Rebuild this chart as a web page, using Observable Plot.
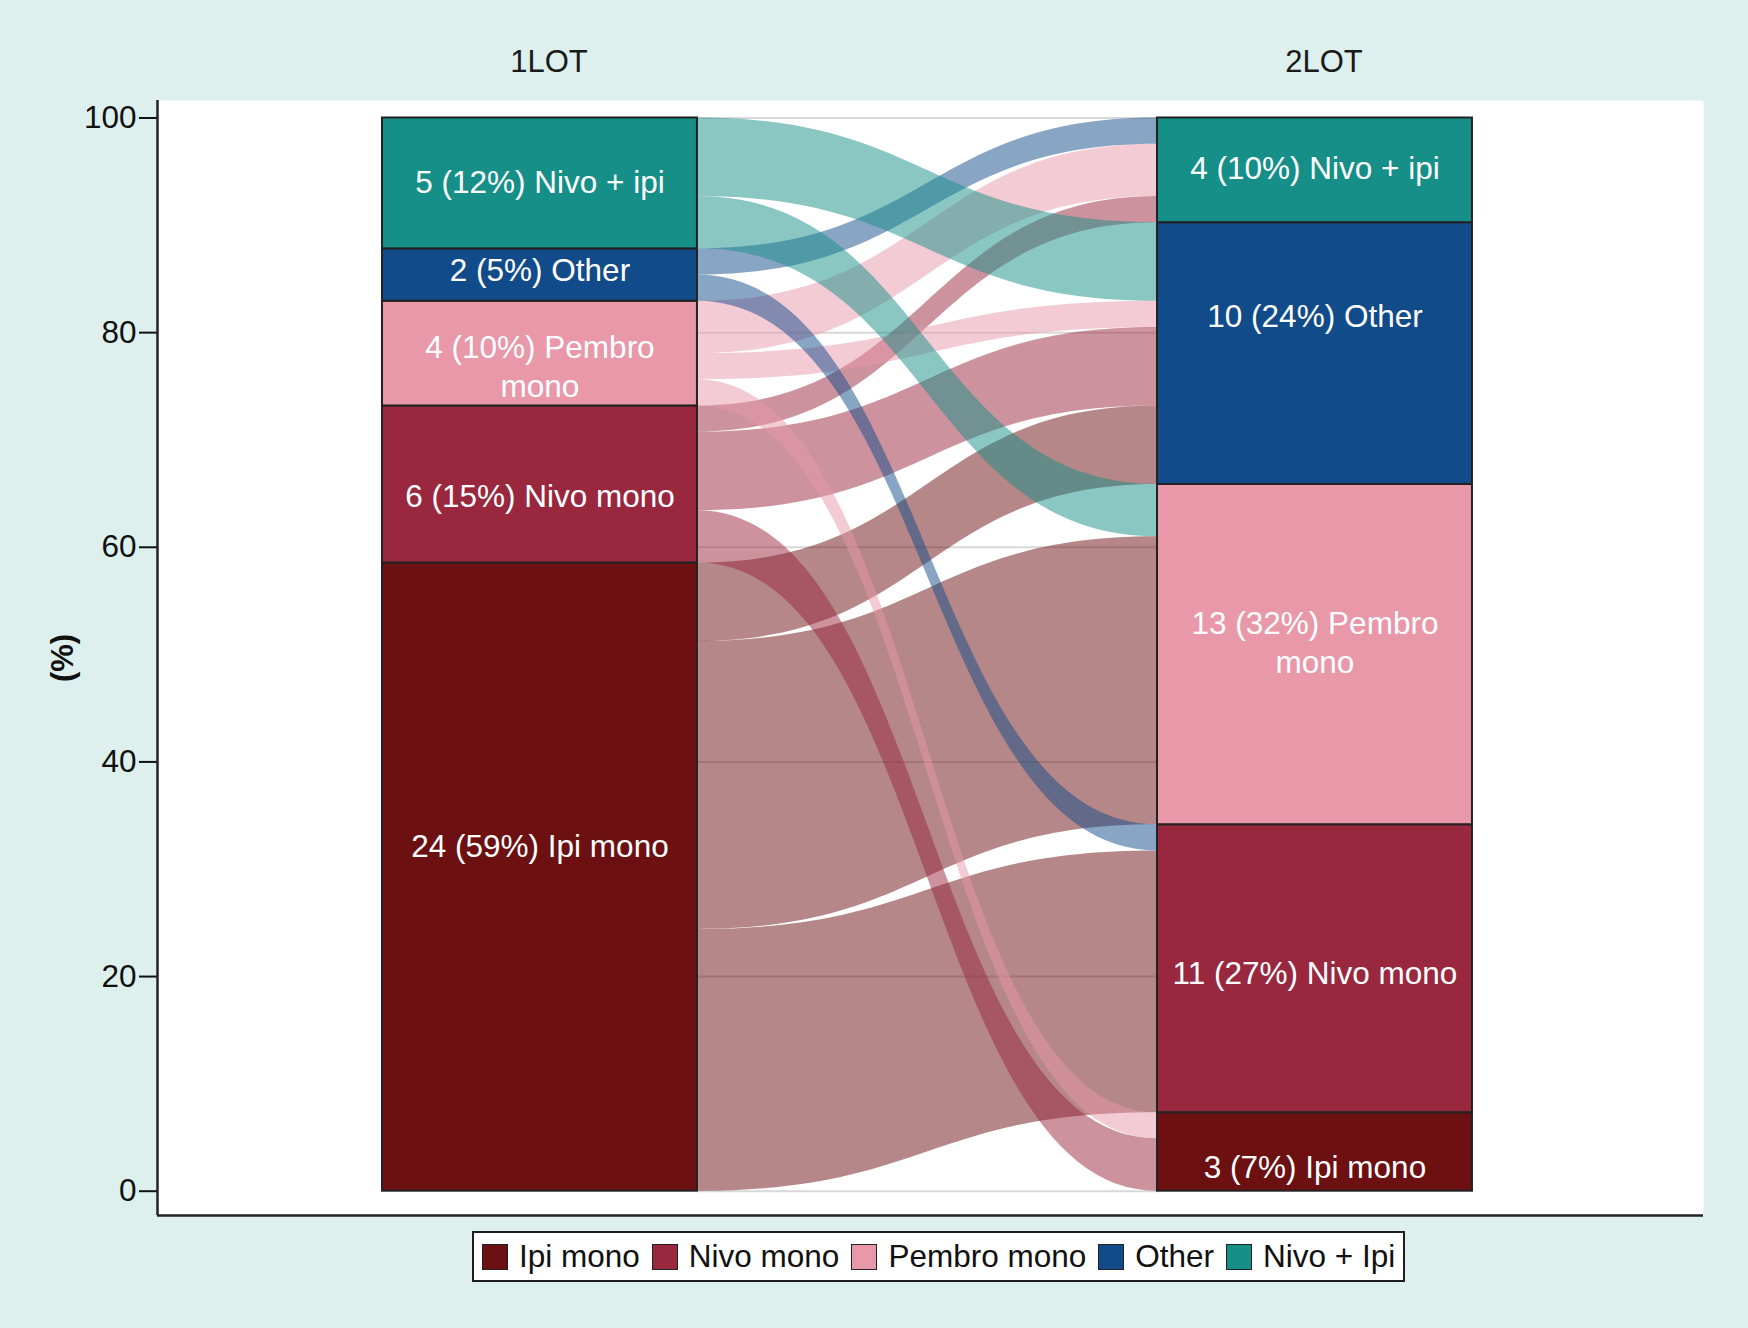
<!DOCTYPE html>
<html>
<head>
<meta charset="utf-8">
<script src="https://cdn.jsdelivr.net/npm/d3@7"></script>
<script src="https://cdn.jsdelivr.net/npm/@observablehq/plot@0.6"></script>
<style>
  html, body { margin: 0; padding: 0; background: #ddf0ee; }
  body {
    width: 1748px; height: 1328px; overflow: hidden; position: relative;
    font-family: "Liberation Sans", Arial, Helvetica, sans-serif;
  }
  #chart { position: absolute; left: 0; top: 0; }
  #legend {
    position: absolute; left: 472px; top: 1231px; height: 51px;
    box-sizing: border-box; border: 2px solid #1e1e1e; background: #fff;
    display: flex; align-items: center; padding: 0 8px 0 8px;
    font-size: 31.5px; color: #111; white-space: nowrap;
  }
  #legend .sw {
    width: 26px; height: 26px; box-sizing: border-box;
    border: 1.5px solid #222; margin-right: 11px; flex: none;
  }
  #legend .lab { margin-right: 12px; }
  #legend .lab:last-child { margin-right: 0; }
</style>
</head>
<body>
<div id="chart"></div>
<div id="legend"></div>
<script>
// Lines of therapy and treatment groups (stacked bottom to top)
const stages = ["1LOT", "2LOT"];
const treatments = ["Ipi mono", "Nivo mono", "Pembro mono", "Other", "Nivo + ipi"];
const nodeNames = ["Ipi mono", "Nivo mono", "Pembro\nmono", "Other", "Nivo + ipi"];
const legendNames = ["Ipi mono", "Nivo mono", "Pembro mono", "Other", "Nivo + Ipi"];
const palette = ["#6c1012", "#99283f", "#e898a9", "#124b8a", "#158f87"];

// Patients moving from first-line to second-line treatment
const flowFrom = ["Ipi mono", "Ipi mono", "Ipi mono",
                  "Nivo mono", "Nivo mono", "Nivo mono",
                  "Pembro mono", "Pembro mono", "Pembro mono",
                  "Other", "Other",
                  "Nivo + ipi", "Nivo + ipi"];
const flowTo = ["Nivo mono", "Pembro mono", "Other",
                "Ipi mono", "Other", "Nivo + ipi",
                "Ipi mono", "Other", "Nivo + ipi",
                "Nivo mono", "Nivo + ipi",
                "Pembro mono", "Other"];
const flowPatients = [10, 11, 3, 2, 3, 1, 1, 1, 2, 1, 1, 2, 3];

const yTicks = [0, 20, 40, 60, 80, 100];

// ---- layout constants ----
const W = 1748, H = 1222;
const margin = {left: 157, right: 45, top: 100, bottom: 7};
const xDomain = [-0.4935, 1.5013];     // stage index 0 and 1 sit at the bar centres
const yDomain = [-2.264, 101.63];
const hw = 0.2032;                      // half bar width in stage units
const pxPerUnit = (H - margin.top - margin.bottom) / (yDomain[1] - yDomain[0]);
// vertical label offsets in pixels (positive = down)
const labelShiftPx = {
  "0|Ipi mono": -32.5, "0|Nivo mono": 10.5, "0|Pembro mono": 11.5, "0|Other": -6.5, "0|Nivo + ipi": -2.5,
  "1|Ipi mono": 13.5, "1|Nivo mono": 2.5, "1|Pembro mono": -13.5, "1|Other": -38.5, "1|Nivo + ipi": -4
};

// ---- build nodes and links ----
const total = d3.sum(flowPatients);
const pct = n => n / total * 100;
const links = flowFrom.map((s, i) => ({
  id: i,
  s: treatments.indexOf(s),
  t: treatments.indexOf(flowTo[i]),
  n: flowPatients[i]
}));

const nodes = [];
stages.forEach((stage, k) => {
  let base = 0;
  treatments.forEach((name, j) => {
    const n = d3.sum(links.filter(l => (k === 0 ? l.s : l.t) === j), l => l.n);
    nodes.push({stage: k, j, name, n, y1: pct(base), y2: pct(base + n), base});
    base += n;
  });
});

// source side: links stacked by target order; target side: by source order
treatments.forEach((_, j) => {
  let off = nodes.find(d => d.stage === 0 && d.j === j).base;
  links.filter(l => l.s === j).sort((a, b) => a.t - b.t).forEach(l => {
    l.l0 = pct(off); l.l1 = pct(off + l.n); off += l.n;
  });
  off = nodes.find(d => d.stage === 1 && d.j === j).base;
  links.filter(l => l.t === j).sort((a, b) => a.s - b.s).forEach(l => {
    l.r0 = pct(off); l.r1 = pct(off + l.n); off += l.n;
  });
});

const ribbons = links
  .slice()
  .sort((a, b) => a.s - b.s || a.t - b.t)
  .flatMap(l => [
    {id: l.id, x: 0 + hw, lo: l.l0, hi: l.l1, color: palette[l.s]},
    {id: l.id, x: 1 - hw, lo: l.r0, hi: l.r1, color: palette[l.s]}
  ]);

const nodeLabel = d => `${d.n} (${Math.round(pct(d.n))}%) ${nodeNames[d.j]}`;
const labelY = d => (d.y1 + d.y2) / 2 - (labelShiftPx[`${d.stage}|${d.name}`] || 0) / pxPerUnit;

const font = '"Liberation Sans", Arial, Helvetica, sans-serif';

const chart = Plot.plot({
  width: W,
  height: H,
  marginLeft: margin.left,
  marginRight: margin.right,
  marginTop: margin.top,
  marginBottom: margin.bottom,
  x: {domain: xDomain, axis: null},
  y: {domain: yDomain, axis: null},
  color: {type: "identity"},
  style: {background: "transparent", fontFamily: font, fontSize: "31px", color: "#111", overflow: "visible"},
  marks: [
    // white plotting region
    Plot.frame({fill: "white", stroke: null}),
    // light grid between the two columns
    Plot.ruleY(yTicks, {x1: hw, x2: 1 - hw, stroke: "#d8d8d8", strokeWidth: 2}),
    // transition ribbons, coloured by first-line treatment
    Plot.area(ribbons, {
      x1: "x", y1: "lo", y2: "hi", z: "id",
      fill: "color", fillOpacity: 0.5, curve: "bump-x"
    }),
    // stacked treatment blocks
    Plot.rect(nodes, {
      x1: d => d.stage - hw, x2: d => d.stage + hw,
      y1: "y1", y2: "y2",
      fill: d => palette[d.j], stroke: "#222", strokeWidth: 2
    }),
    Plot.text(nodes, {
      x: "stage", y: labelY, text: nodeLabel,
      fill: "white", fontSize: 31.5, lineHeight: 1.22
    }),
    // column titles
    Plot.text(stages, {
      x: (d, i) => i, frameAnchor: "top", lineAnchor: "middle",
      dy: -38, dx: 9, fontSize: 31, fill: "#1a1a1a"
    }),
    // y axis
    Plot.axisY({ticks: yTicks, tickSize: 18, tickPadding: 3, fontSize: 31.5, strokeWidth: 2, label: null}),
    Plot.text(["(%)"], {
      frameAnchor: "left", textAnchor: "middle", lineAnchor: "middle",
      dx: -94, rotate: -90, fontWeight: "bold", fontSize: 31, fill: "#111"
    }),
    // axis lines
    Plot.ruleX([xDomain[0]], {stroke: "#222", strokeWidth: 2.5}),
    Plot.ruleY([yDomain[0]], {stroke: "#222", strokeWidth: 2.5})
  ]
});
document.getElementById("chart").append(chart);

// legend
const legend = document.getElementById("legend");
legendNames.forEach((name, i) => {
  const sw = document.createElement("span");
  sw.className = "sw";
  sw.style.background = palette[i];
  const lab = document.createElement("span");
  lab.className = "lab";
  lab.textContent = name;
  legend.append(sw, lab);
});
</script>
</body>
</html>
